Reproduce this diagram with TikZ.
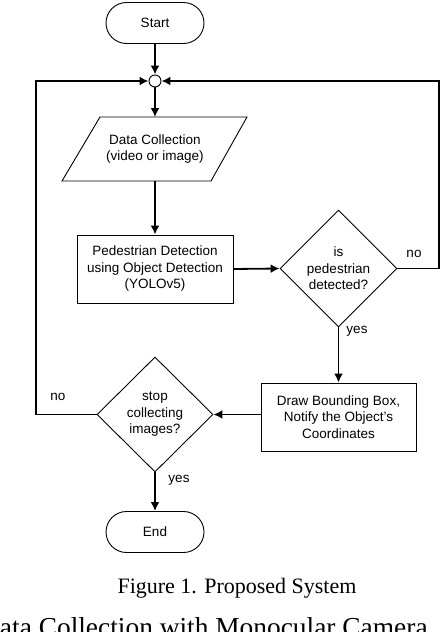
\documentclass[tikz,border=0pt]{standalone}
\usepackage{fontspec}
\setmainfont{Liberation Sans}
\newfontfamily\capfont{Liberation Serif}
\usetikzlibrary{shapes.geometric,shapes.misc,arrows.meta}
\begin{document}
\begin{tikzpicture}[x=1pt,y=-1pt,
  every node/.style={font=\fontsize{13.5}{16.5}\selectfont, align=center},
  term/.style={draw, rounded rectangle, minimum width=98pt, minimum height=41pt, line width=0.9pt, inner sep=0pt},
  procbox/.style={draw, rectangle, minimum width=156pt, minimum height=68pt, line width=0.9pt, inner sep=0pt},
  decide/.style={draw, diamond, minimum width=117pt, minimum height=117pt, line width=0.9pt, inner sep=0pt},
  junc/.style={draw, circle, minimum size=12pt, inner sep=0pt, line width=0.9pt},
  lbl/.style={inner sep=0pt},
  conn/.style={line width=1.8pt, -{Latex[length=9pt,width=9pt]}},
  plainline/.style={line width=1.8pt}
]
\useasboundingbox (0,0) rectangle (442,632);

\node[term] (start) at (155,23) {Start};
\node[junc] (junc) at (155,81) {};
\node[inner sep=0pt, minimum width=110pt, minimum height=64pt] (data) at (155,149) {Data Collection\\(video or image)};
\draw[line width=0.9pt] (62,181) -- (100,117) -- (247,117) -- (211,181) -- cycle;
\node[procbox] (ped) at (155,269) {Pedestrian Detection\\using Object Detection\\(YOLOv5)};
\node[decide] (isped) at (338.5,268.5) {is\\pedestrian\\detected?};
\node[procbox, minimum width=155pt] (draw) at (338.5,417) {Draw Bounding Box,\\Notify the Object's\\Coordinates};
\node[decide, minimum width=116pt, minimum height=115pt] (stop) at (155,414.5) {stop\\collecting\\images?};
\node[term] (end) at (155,532) {End};

\coordinate (ltop) at (36,81);
\coordinate (lbot) at (36,414.5);
\coordinate (rtop) at (439,81);
\coordinate (rbot) at (439,268.5);

\draw[conn] (start.south) -- (junc.north);
\draw[conn] (junc.south) -- (155,117);
\draw[conn] (data.south |- 0,181) -- (ped.north);
\draw[conn] (ped.east) -- (isped.west);
\draw[conn] (isped.south) -- (draw.north);
\draw[conn] (draw.west |- stop.east) -- (stop.east);
\draw[conn] (stop.south) -- (end.north);
\draw[conn] (stop.west) -- (lbot) -- (ltop) -- (junc.west);
\draw[conn] (isped.east) -- (rbot) -- (rtop) -- (junc.east);

\node[lbl] (no1) at (414,254) {no};
\node[lbl] (yes1) at (357,331) {yes};
\node[lbl] (no2) at (58,397) {no};
\node[lbl] (yes2) at (179,480) {yes};

\node[anchor=base, inner sep=0pt, font=\capfont\fontsize{22}{26}\selectfont] (cap) at (237,593) {Figure 1. Proposed System};
\node[anchor=base west, inner sep=0pt, font=\capfont\fontsize{27.4}{32}\selectfont] (next) at (-20,636) {Data Collection with Monocular Camera};
\end{tikzpicture}
\end{document}
